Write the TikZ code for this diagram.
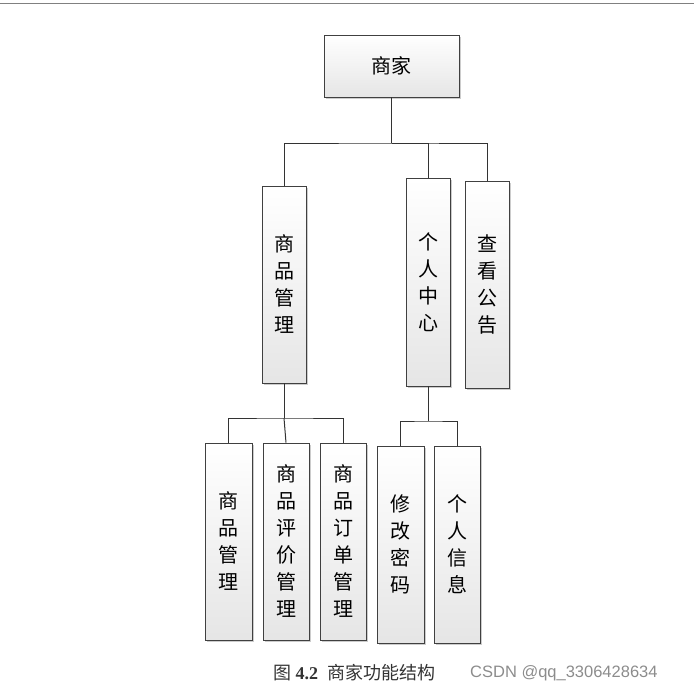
\documentclass[tikz,border=0pt]{standalone}
\usepackage{fontspec}
\setmainfont{Liberation Serif}
\newfontfamily\cjk{Noto Sans CJK SC}
\newfontfamily\arialish{Liberation Sans}
\usetikzlibrary{shadows}
\begin{document}
\begin{tikzpicture}[x=1pt,y=-1pt,
  box/.style={draw=black!75, line width=0.6pt, top color=white, bottom color=black!10,
    drop shadow={shadow xshift=2pt, shadow yshift=-2pt, fill=black!40},
    font=\cjk\fontsize{20}{27}\selectfont, align=center, inner sep=0pt},
  ln/.style={draw=black!80, line width=1pt}]
\useasboundingbox (0,0) rectangle (694,693);
\draw[black!50, line width=0.8pt] (0,3) -- (694,3);
\node[box, minimum width=135, minimum height=62] (top) at (391.5,66) {商家};
\node[box, minimum width=44, minimum height=197] (b1) at (284,284.5) {商\\品\\管\\理};
\node[box, minimum width=44, minimum height=208] (b2) at (428,282) {个\\人\\中\\心};
\node[box, minimum width=44, minimum height=207] (b3) at (487,284.5) {查\\看\\公\\告};
\node[box, minimum width=47, minimum height=197] (c1) at (228.5,541.5) {商\\品\\管\\理};
\node[box, minimum width=46, minimum height=197] (c2) at (286,541.5) {商\\品\\评\\价\\管\\理};
\node[box, minimum width=46, minimum height=197] (c3) at (343,541.5) {商\\品\\订\\单\\管\\理};
\node[box, minimum width=47, minimum height=197] (c4) at (400.5,544.5) {修\\改\\密\\码};
\node[box, minimum width=46, minimum height=197] (c5) at (457,544.5) {个\\人\\信\\息};
\coordinate (j1) at (top.south |- 0,143);
\coordinate (j2) at (b1.south |- 0,418);
\coordinate (j3) at (b2.south |- 0,421);
\draw[ln] (top.south) -- (j1);
\draw[ln] (b1.north) |- (j1) -| (b3.north);
\draw[ln] (j1) -| (b2.north);
\draw[ln] (b1.south) -- (j2);
\draw[ln] (c1.north) |- (j2) -| (c3.north);
\draw[ln] (j2) -- (c2.north);
\draw[ln] (b2.south) -- (j3);
\draw[ln] (c4.north) |- (j3) -| (c5.north);
\node[font=\fontsize{18}{20}\selectfont, anchor=west, text=black!80, inner sep=0pt] (cap) at (273,673) {{\cjk 图} \textbf{4.2}\ \ {\cjk 商家功能结构}};
\node[font=\arialish\fontsize{16.5}{18}\selectfont, anchor=west, text=black!45, inner sep=0pt] (csdn) at (470,673) {CSDN @qq\_3306428634};
\end{tikzpicture}
\end{document}
